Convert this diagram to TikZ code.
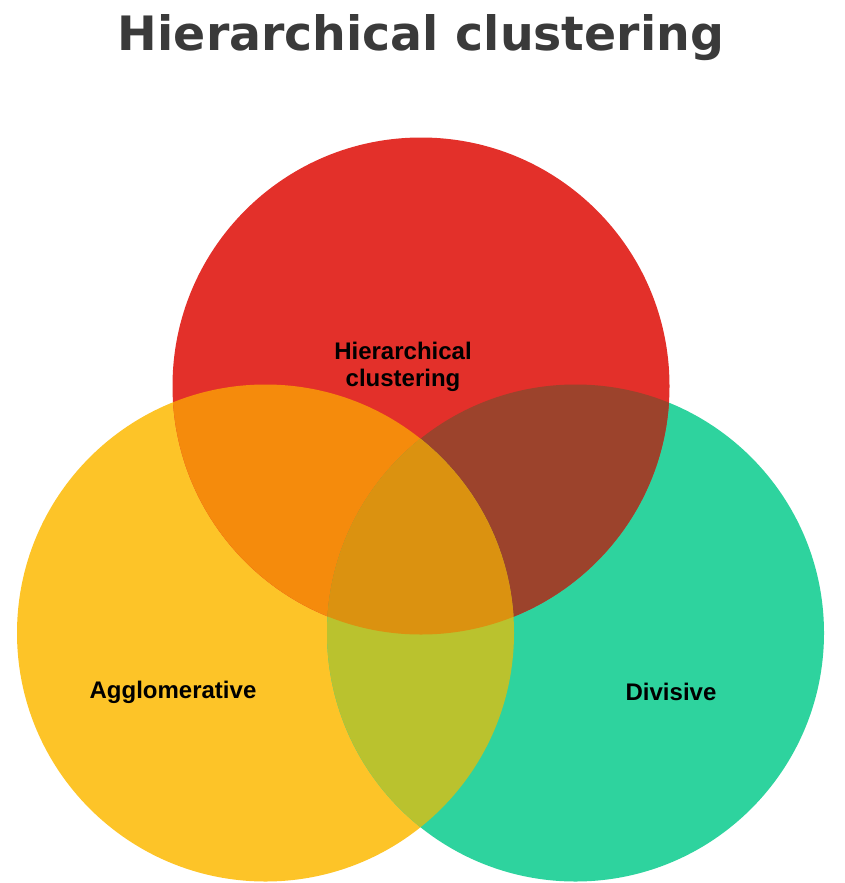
\documentclass[tikz,border=0pt]{standalone}
\usepackage{fontspec}
\setmainfont{Liberation Sans}
\newfontfamily\titlefont{DejaVu Sans}
\usepackage{graphicx}
\definecolor{cred}{RGB}{227,48,42}
\definecolor{cyel}{RGB}{253,196,40}
\definecolor{cgrn}{RGB}{46,211,158}
\definecolor{ctl}{RGB}{245,139,12}
\definecolor{ctr}{RGB}{156,67,44}
\definecolor{clr}{RGB}{186,194,46}
\definecolor{cmid}{RGB}{219,146,16}
\definecolor{ctitle}{RGB}{58,58,58}
\tikzset{lbl/.style={font=\bfseries\fontsize{24}{27}\selectfont,align=center}}
\begin{document}
\begin{tikzpicture}[x=1pt,y=-1pt]
\useasboundingbox (0,0) rectangle (845,883);
\def\T{(421,386) circle (248.5)}
\def\L{(265.5,633) circle (248.5)}
\def\R{(575.5,633) circle (248.5)}
\fill[cyel] \L;
\fill[cgrn] \R;
\fill[cred] \T;
\begin{scope}\clip \T; \fill[ctl] \L; \end{scope}
\begin{scope}\clip \T; \fill[ctr] \R; \end{scope}
\begin{scope}\clip \L; \fill[clr] \R; \end{scope}
\begin{scope}\clip \T; \clip \L; \fill[cmid] \R; \end{scope}
\node[text=ctitle] (title) at (421,38) {\resizebox{606pt}{!}{\titlefont\bfseries Hierarchical clustering}};
\node[lbl] (h) at (403,367) {Hierarchical\\clustering};
\node[lbl] (a) at (173,692) {Agglomerative};
\node[lbl] (d) at (671,692) {Divisive};
\end{tikzpicture}
\end{document}
